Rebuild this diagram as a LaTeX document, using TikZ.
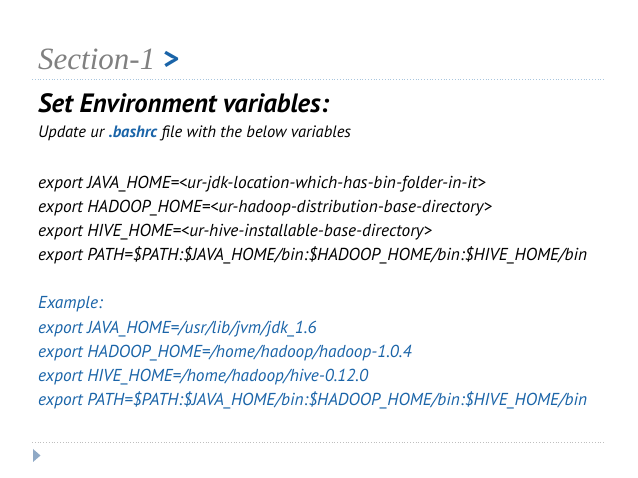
\documentclass[tikz,border=0pt]{standalone}
\usepackage{fontspec}
\setmainfont{PT Sans}
\definecolor{blu}{HTML}{1A64A8}
\definecolor{tri}{HTML}{8FA9C6}
\definecolor{dots}{HTML}{A9C6DE}
\tikzset{ln/.style={anchor=base west,inner sep=0pt,font=\fontsize{17.3}{19}\selectfont\itshape},
bl/.style={ln,text=blu}}
\begin{document}
\begin{tikzpicture}[x=1pt,y=-1pt]
\useasboundingbox (0,0) rectangle (638,478);
\node[anchor=base west,inner sep=0pt,font=\fontsize{31}{34}\rmfamily\fontspec{Liberation Serif}\itshape,text=gray] (sec) at (38,70) {Section-1 \textcolor{blu}{\fontspec{PT Sans}\bfseries\upshape>}};
\coordinate (l1a) at (32,79); \coordinate (l1b) at (605,79);
\draw[dots,dotted,line width=0.8pt] (l1a) -- (l1b);
\node[anchor=base west,inner sep=0pt,font=\fontsize{26.5}{28}\selectfont\bfseries\itshape] (h) at (38,113) {Set Environment variables:};
\node[ln,font=\fontsize{16.5}{18}\selectfont\itshape] (u) at (38,138) {Update ur \textcolor{blu}{\bfseries .bashrc} file with the below variables};
\node[ln] (a1) at (38,189) {export JAVA\_HOME=<ur-jdk-location-which-has-bin-folder-in-it>};
\node[ln] (a2) at (38,213) {export HADOOP\_HOME=<ur-hadoop-distribution-base-directory>};
\node[ln] (a3) at (38,237) {export HIVE\_HOME=<ur-hive-installable-base-directory>};
\node[ln] (a4) at (38,261) {export PATH=\$PATH:\$JAVA\_HOME/bin:\$HADOOP\_HOME/bin:\$HIVE\_HOME/bin};
\node[bl] (e) at (38,309) {Example:};
\node[bl] (b1) at (38,334) {export JAVA\_HOME=/usr/lib/jvm/jdk\_1.6};
\node[bl] (b2) at (38,358) {export HADOOP\_HOME=/home/hadoop/hadoop-1.0.4};
\node[bl] (b3) at (38,382) {export HIVE\_HOME=/home/hadoop/hive-0.12.0};
\node[bl] (b4) at (38,406) {export PATH=\$PATH:\$JAVA\_HOME/bin:\$HADOOP\_HOME/bin:\$HIVE\_HOME/bin};
\coordinate (l2a) at (32,442); \coordinate (l2b) at (605,442);
\draw[gray!50,dotted,line width=0.8pt] (l2a) -- (l2b);
\fill[tri] (33,449) -- (40.5,455.5) -- (33,462) -- cycle;
\end{tikzpicture}
\end{document}
